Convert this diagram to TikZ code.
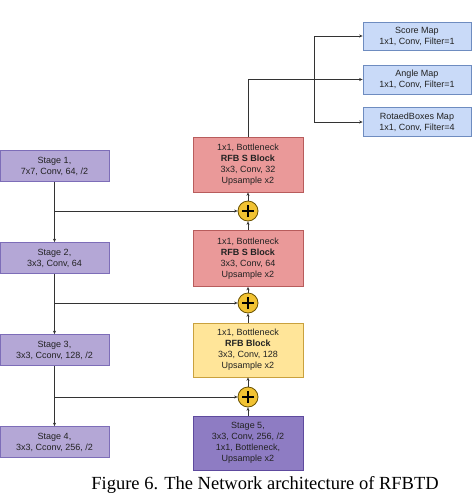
\documentclass[tikz,border=0pt]{standalone}
\usepackage{fontspec}
\setmainfont{Liberation Sans}
\newfontfamily\capfont{Liberation Serif}
\usetikzlibrary{arrows.meta}
\definecolor{stfill}{HTML}{B4A7D6}
\definecolor{stdraw}{HTML}{7D6DB8}
\definecolor{s5fill}{HTML}{8E7CC3}
\definecolor{s5draw}{HTML}{5E4A9E}
\definecolor{rsfill}{HTML}{EA9999}
\definecolor{rsdraw}{HTML}{B85C5C}
\definecolor{ryfill}{HTML}{FFE599}
\definecolor{rydraw}{HTML}{C9A13E}
\definecolor{mpfill}{HTML}{C9DAF8}
\definecolor{mpdraw}{HTML}{6E8CC0}
\definecolor{plfill}{HTML}{F1C232}
\definecolor{pldraw}{HTML}{6B5200}
\definecolor{ln}{HTML}{333333}
\definecolor{tx}{HTML}{222222}
\begin{document}
\begin{tikzpicture}[x=1pt,y=-1pt,
  box/.style={rectangle, draw, line width=0.7pt, align=center, inner sep=1pt, text=tx,
    font=\fontsize{9}{11}\selectfont},
  stagebox/.style={box, fill=stfill, draw=stdraw, minimum width=109pt, minimum height=31pt},
  stfive/.style={box, fill=s5fill, draw=s5draw, minimum width=110pt, minimum height=54pt},
  rfbs/.style={box, fill=rsfill, draw=rsdraw, minimum width=110pt, minimum height=55pt},
  rfby/.style={box, fill=ryfill, draw=rydraw, minimum width=110pt, minimum height=54pt},
  mapbox/.style={box, fill=mpfill, draw=mpdraw, minimum width=108pt, minimum height=29pt},
  plusc/.style={circle, draw=pldraw, fill=plfill, line width=0.8pt, minimum size=20pt, inner sep=0pt,
    path picture={\draw[line width=1.7pt, black]
      ([xshift=-6pt]path picture bounding box.center) -- ([xshift=6pt]path picture bounding box.center)
      ([yshift=-6pt]path picture bounding box.center) -- ([yshift=6pt]path picture bounding box.center);}},
  arr/.style={draw=ln, line width=0.7pt, -{Stealth[length=3.5pt,width=3pt]}}
]
\useasboundingbox (0,0) rectangle (474,493);

% left stages
\node[stagebox] (st1) at (54.5,166) {Stage 1,\\7x7, Conv, 64, /2};
\node[stagebox] (st2) at (54.5,258) {Stage 2,\\3x3, Conv, 64};
\node[stagebox] (st3) at (54.5,350) {Stage 3,\\3x3, Cconv, 128, /2};
\node[stagebox] (st4) at (54.5,442) {Stage 4,\\3x3, Cconv, 256, /2};

% central column
\node[rfbs] (s1) at (248,164.5) {1x1, Bottleneck\\\textbf{RFB S Block}\\3x3, Conv, 32\\Upsample x2};
\node[plusc] (p1) at (248,211) {};
\node[rfbs, minimum height=56pt] (s2) at (248,258.5) {1x1, Bottleneck\\\textbf{RFB S Block}\\3x3, Conv, 64\\Upsample x2};
\node[plusc] (p2) at (248,303) {};
\node[rfby] (rb) at (248,350) {1x1, Bottleneck\\\textbf{RFB Block}\\3x3, Conv, 128\\Upsample x2};
\node[plusc] (p3) at (248,397) {};
\node[stfive] (st5) at (248,443) {Stage 5,\\3x3, Conv, 256, /2\\1x1, Bottleneck,\\Upsample x2};

% maps
\node[mapbox, minimum height=28pt] (score) at (417,36) {Score Map\\1x1, Conv, Filter=1};
\node[mapbox] (angle) at (417,79.5) {Angle Map\\1x1, Conv, Filter=1};
\node[mapbox] (rot) at (417,122) {RotaedBoxes Map\\1x1, Conv, Filter=4};

% left chain
\draw[arr] (st1.south) -- (st2.north);
\draw[arr] (st2.south) -- (st3.north);
\draw[arr] (st3.south) -- (st4.north);
\draw[arr] (st1.south |- p1.west) -- (p1.west);
\draw[arr] (st2.south |- p2.west) -- (p2.west);
\draw[arr] (st3.south |- p3.west) -- (p3.west);

% central chain
\draw[arr] (st5.north) -- (p3.south);
\draw[arr] (p3.north) -- (rb.south);
\draw[arr] (rb.north) -- (p2.south);
\draw[arr] (p2.north) -- (s2.south);
\draw[arr] (s2.north) -- (p1.south);
\draw[arr] (p1.north) -- (s1.south);

% outputs
\coordinate (br) at (314,79.5);
\draw[arr] (s1.north) |- (angle.west);
\draw[arr] (br) |- (score.west);
\draw[arr] (br) |- (rot.west);

% caption
\node[anchor=base, font=\capfont\fontsize{18.5}{20}\selectfont, text=black] (cap) at (265,489)
  {Figure 6. The Network architecture of RFBTD};
\end{tikzpicture}
\end{document}
